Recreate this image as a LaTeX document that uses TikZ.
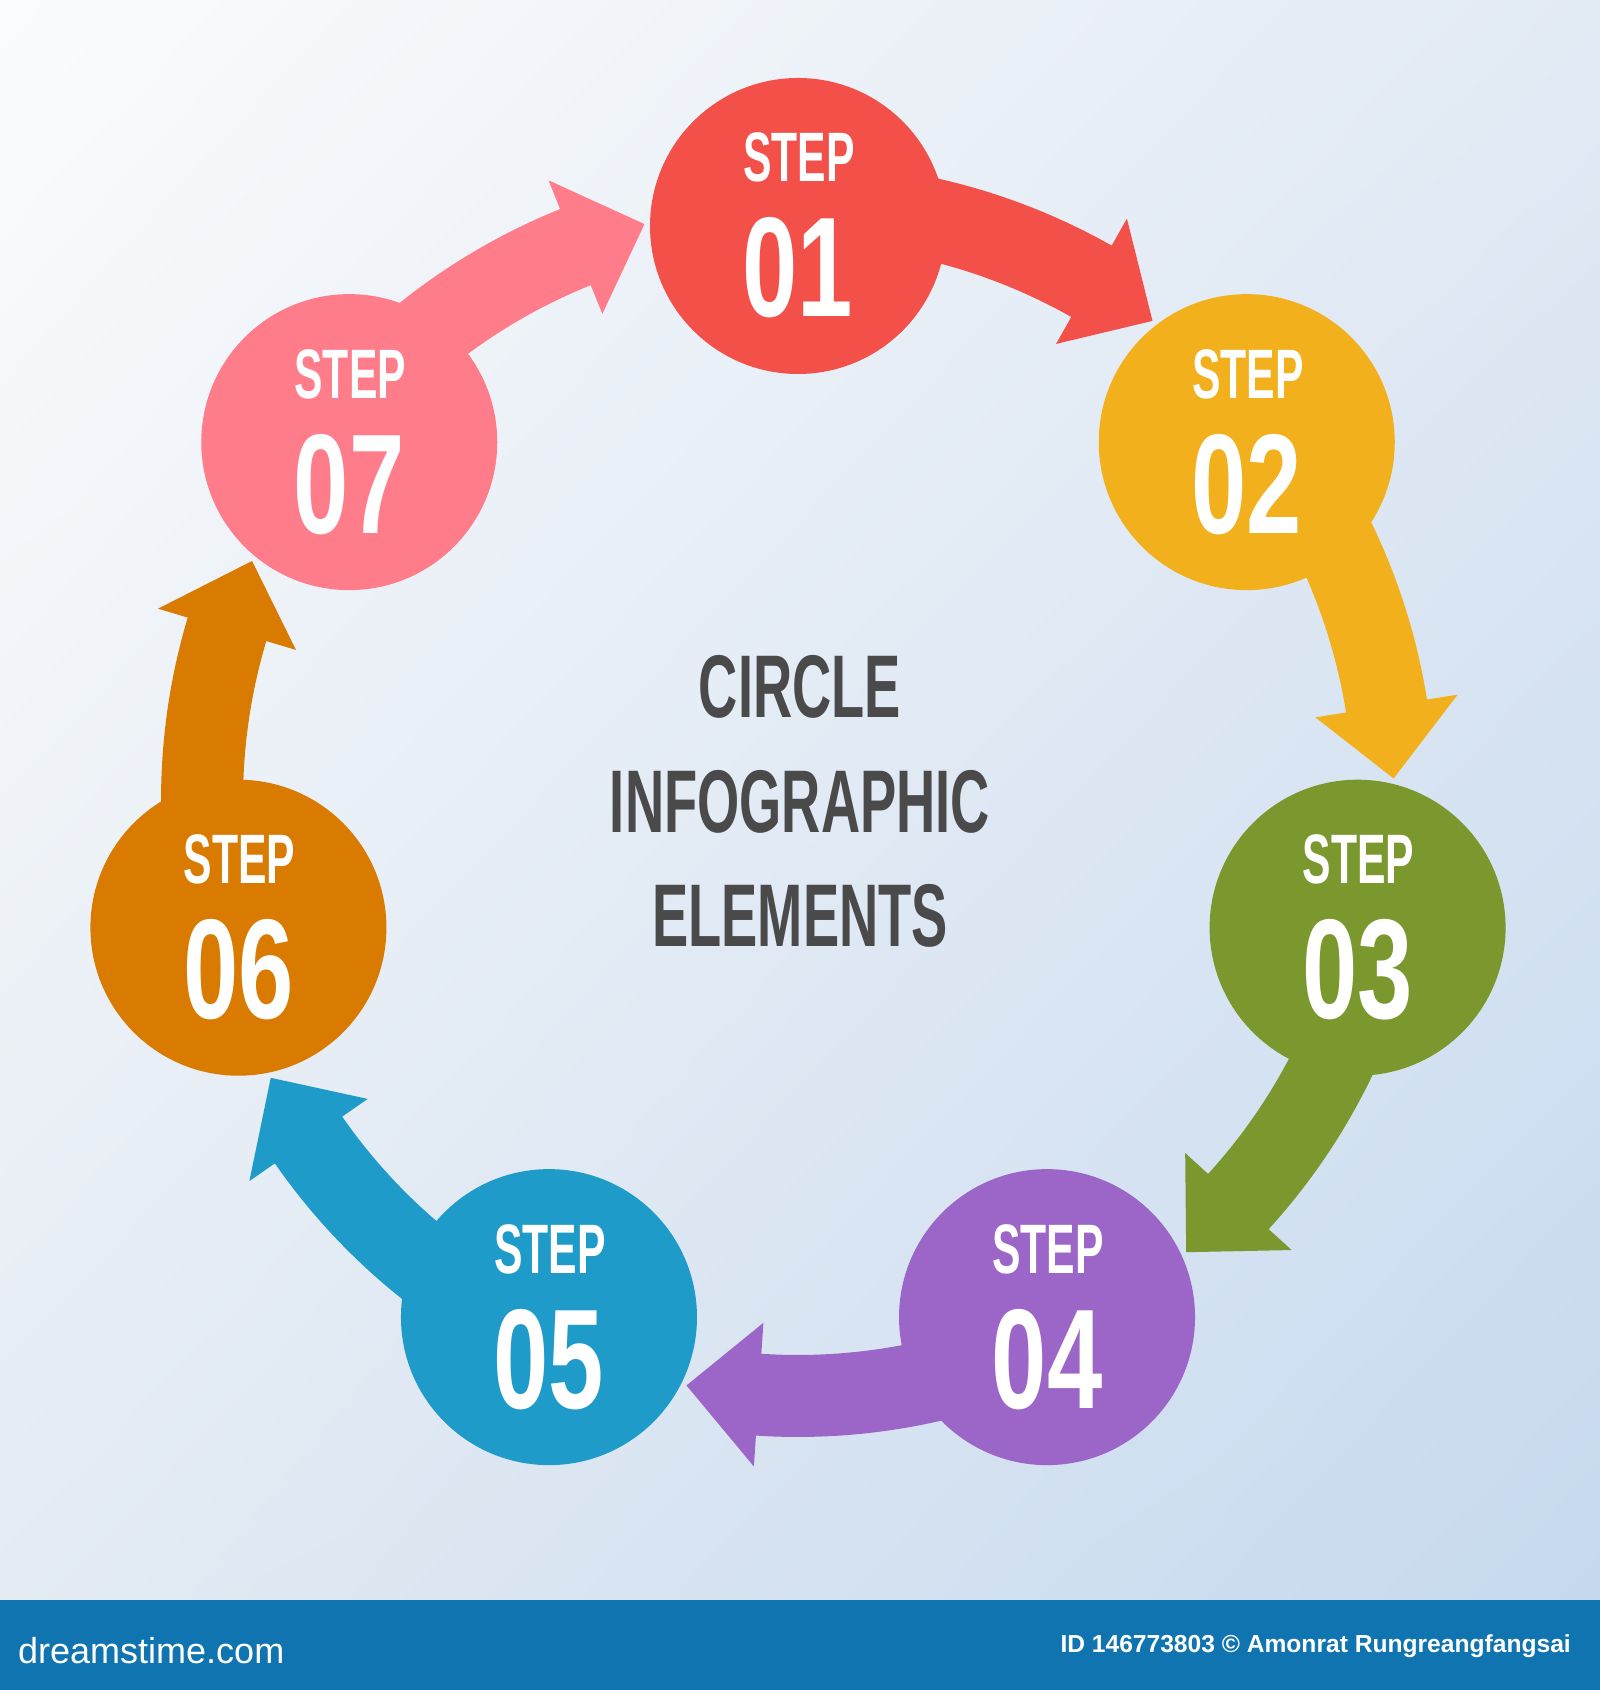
\documentclass[tikz,border=0pt]{standalone}
\usepackage{fontspec}
\setmainfont{Liberation Sans}
\newfontfamily\condfont[FakeStretch=0.61]{Liberation Sans}
\newfontfamily\digfont[FakeStretch=0.70]{Liberation Sans}
\usetikzlibrary{calc,shadings}
\definecolor{cred}{RGB}{242,80,73}
\definecolor{cyel}{RGB}{242,176,28}
\definecolor{cgrn}{RGB}{122,152,46}
\definecolor{cpur}{RGB}{155,102,200}
\definecolor{cblu}{RGB}{30,155,200}
\definecolor{corg}{RGB}{217,123,0}
\definecolor{cpnk}{RGB}{255,124,138}
\definecolor{ctxt}{RGB}{74,74,74}
\definecolor{cbar}{RGB}{16,116,176}
\definecolor{bgTL}{RGB}{251,252,253}
\definecolor{bgTR}{RGB}{226,234,244}
\definecolor{bgBL}{RGB}{228,235,243}
\definecolor{bgBR}{RGB}{198,217,239}
\tikzset{
  stepdisc/.style={circle, minimum size=296, inner sep=0, draw=none},
  steplbl/.style={text=white, inner sep=0, anchor=base, font=\condfont\bfseries\fontsize{70}{70}\selectfont},
  stepnum/.style={text=white, inner sep=0, anchor=base, font=\digfont\bfseries\fontsize{142}{142}\selectfont},
  centertxt/.style={text=ctxt, inner sep=0, anchor=base, font=\condfont\bfseries\fontsize{89}{89}\selectfont},
  foottxt/.style={text=white, inner sep=0}
}
\begin{document}
\begin{tikzpicture}[x=1pt,y=1pt]
\useasboundingbox (0,0) rectangle (1600,1690);
\shade[upper left=bgTL, upper right=bgTR, lower left=bgBL, lower right=bgBR] (0,90) rectangle (1600,1690);
\fill[cbar] (0,0) rectangle (1600,90);
\coordinate (C) at (798,890);
% arrows
\foreach \k/\col in {0/cred,1/cyel,2/cgrn,3/cpur,4/cblu,5/corg,6/cpnk} {
  \pgfmathsetmacro\th{90-\k*360/7}
  \pgfmathsetmacro\hb{\th-29.5}
  \pgfmathsetmacro\tp{\th-36.5}
  \fill[\col] ($(C)+(\th:637)$) arc[start angle=\th, end angle=\hb, radius=637]
    -- ($(C)+(\hb:668)$) -- ($(C)+(\tp:596)$) -- ($(C)+(\hb:524)$)
    -- ($(C)+(\hb:555)$) arc[start angle=\hb, end angle=\th, radius=555] -- cycle;
}
% discs
\foreach \k/\col/\num in {0/cred/01,1/cyel/02,2/cgrn/03,3/cpur/04,4/cblu/05,5/corg/06,6/cpnk/07} {
  \pgfmathsetmacro\th{90-\k*360/7}
  \node[stepdisc, fill=\col] (s\num) at ($(C)+(\th:574)$) {};
  \node[steplbl] (l\num) at ($(s\num.center)+(1,44)$) {STEP};
  \node[stepnum] (n\num) at ($(s\num.center)+(0,-91)$) {\num};
}
% centre title
\node[centertxt] (t1) at (800,972) {CIRCLE};
\node[centertxt] (t2) at (800,857) {INFOGRAPHIC};
\node[centertxt] (t3) at (800,743) {ELEMENTS};
% footer
\node[foottxt, anchor=base west, font=\fontsize{36}{36}\selectfont] (logo) at (18,27) {dreamstime.com};
\node[foottxt, anchor=base east, font=\bfseries\fontsize{24.6}{24.6}\selectfont] (credit) at (1571,37) {ID 146773803 © Amonrat Rungreangfangsai};
\end{tikzpicture}
\end{document}
